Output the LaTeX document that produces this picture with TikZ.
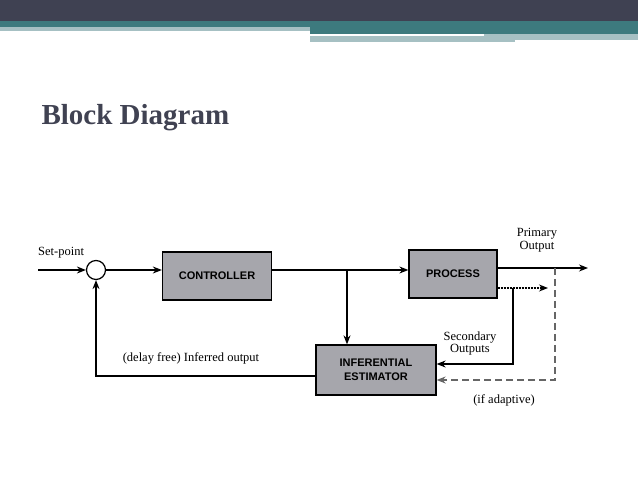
\documentclass[tikz,border=0pt]{standalone}
\usepackage{fontspec}
\setmainfont{Liberation Serif}
\newfontfamily\boxfont{Liberation Sans}
\usetikzlibrary{arrows.meta}
\definecolor{bar}{HTML}{3F4152}
\definecolor{teal}{HTML}{3D7A7E}
\definecolor{lteal}{HTML}{A6C0C3}
\definecolor{title}{HTML}{404252}
\definecolor{boxgray}{HTML}{A6A6AC}
\begin{document}
\begin{tikzpicture}[x=1pt,y=-1pt,
  blk/.style={draw,line width=1.3pt,fill=boxgray,font=\boxfont\bfseries\fontsize{11}{12}\selectfont,align=center,inner sep=0pt},
  lbl/.style={font=\fontsize{12.5}{13}\selectfont,inner sep=0pt,align=center},
  sig/.style={line width=1.2pt,-{Stealth[length=9pt,width=7pt]}},
  ln/.style={line width=1.2pt}]
\useasboundingbox (0,0) rectangle (638,478);
% header
\fill[bar] (0,0) rectangle (638,21);
\fill[teal] (0,21) rectangle (638,27);
\fill[lteal] (0,27) rectangle (310,31);
\fill[teal] (310,27) rectangle (638,34);
\fill[lteal] (310,36) rectangle (515,42);
\fill[lteal] (484,34) rectangle (638,40);
\node[anchor=west,font=\bfseries\fontsize{29}{32}\selectfont,text=title] (title) at (38,118) {Block Diagram};
% blocks
\node[draw,circle,line width=1.2pt,minimum size=19pt,inner sep=0pt] (sum) at (96,270) {};
\node[blk,minimum width=109pt,minimum height=48pt] (ctrl) at (217,276) {CONTROLLER};
\node[blk,minimum width=88pt,minimum height=48pt] (proc) at (453,274) {PROCESS};
\node[blk,minimum width=120pt,minimum height=50pt] (est) at (376,370) {INFERENTIAL\\[2pt]ESTIMATOR};
\coordinate (sp) at (38,270);
\coordinate (po) at (588,268);
\coordinate (so) at (548,288);
\coordinate (br) at (347,270);
\coordinate (sd) at (513,288);
\coordinate (dd) at (555,268);
% connectors
\draw[sig] (sp) -- (sum);
\draw[sig] (sum) -- (sum -| ctrl.west);
\draw[sig] (ctrl.east |- 0,270) -- (proc.west |- 0,270);
\draw[sig] (proc.east |- po) -- (po);
\draw[sig,dash pattern=on 2pt off 1pt] (proc.east |- so) -- (so);
\draw[sig] (br) -- (br |- est.north);
\draw[sig] (sd) -- (sd |- 0,364) -- (est.east |- 0,364);
\draw[sig,dashed,line width=1.4pt,draw=black!60,dash pattern=on 7pt off 4pt] (dd) -- (dd |- 0,380) -- (est.east |- 0,380);
\draw[sig] (est.west |- 0,376) -- (sum |- 0,376) -- (sum.south);
% labels
\node[lbl,anchor=south west] (spl) at (38,258) {Set-point};
\node[lbl] (pol) at (537,240) {Primary\\Output};
\node[lbl] (sol) at (470,343) {Secondary\\[-1pt]Outputs};
\node[lbl] (dfl) at (191,358) {(delay free) Inferred output};
\node[lbl] (adl) at (504,400) {(if adaptive)};
\end{tikzpicture}
\end{document}
